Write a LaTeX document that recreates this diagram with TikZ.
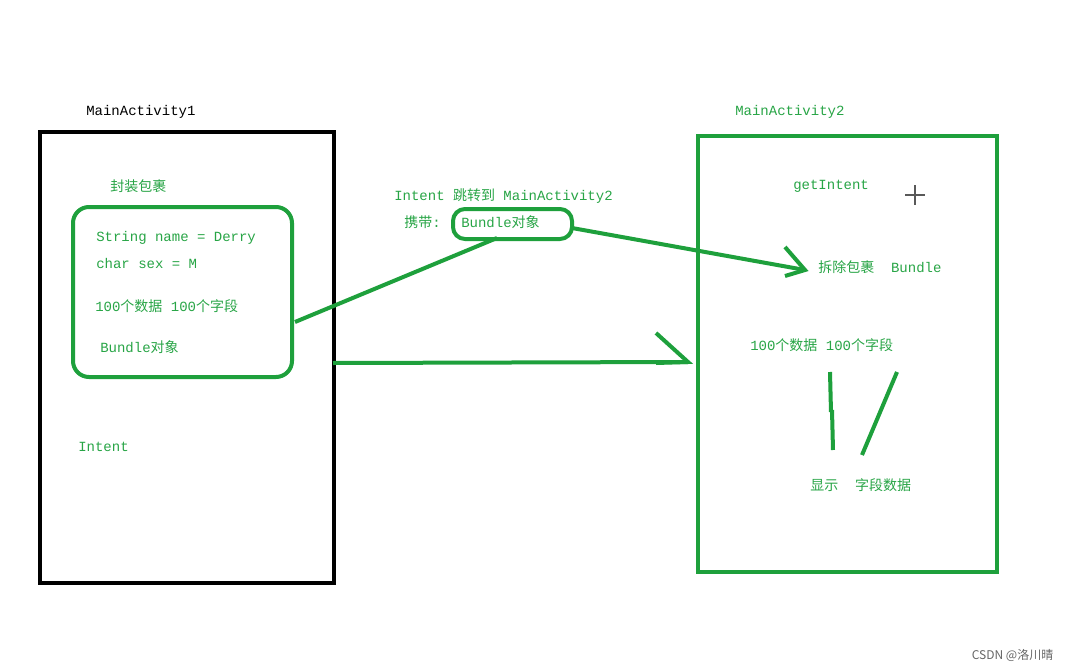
\documentclass[tikz,border=0pt]{standalone}
\usepackage{fontspec}
\setmainfont{Liberation Mono}
\newfontfamily\cjk{Noto Sans CJK SC}
\definecolor{gr}{RGB}{30,160,60}
\definecolor{gt}{RGB}{40,165,70}
\begin{document}
\begin{tikzpicture}[x=0.75pt,y=-0.75pt,
  lbl/.style={anchor=west,text=gt,font=\fontsize{10.5}{12}\selectfont,inner sep=0},
  gline/.style={draw=gr,line width=3pt},
  rbox/.style={draw=gr,line width=3pt,rounded corners=12pt}]
\useasboundingbox[fill=white] (0,0) rectangle (1072,671);
\draw[line width=3pt] (40,132) rectangle (334,583);
\node[lbl,text=black] (t1) at (86,112) {MainActivity1};
\draw[gline] (698,136) rectangle (997,572);
\node[lbl] (t2) at (735,112) {MainActivity2};
\draw[rbox] (73,207) rectangle (292,377);
\node[lbl] (a1) at (110,186) {\cjk 封装包裹};
\node[lbl] (a2) at (96,238) {String name = Derry};
\node[lbl] (a3) at (96,263) {char sex = M};
\node[lbl] (a4) at (95,306) {100{\cjk 个数据} 100{\cjk 个字段}};
\node[lbl] (a5) at (100,347) {Bundle{\cjk 对象}};
\node[lbl] (a6) at (78,447) {Intent};
\node[lbl] (b1) at (394,196) {Intent {\cjk 跳转到} MainActivity2};
\node[lbl] (b2) at (404,222) {{\cjk 携带}:};
\draw[rbox,rounded corners=9pt] (453,209) rectangle (572,239);
\node[lbl] (b3) at (461,222) {Bundle{\cjk 对象}};
\coordinate (p1) at (295,322); \coordinate (p2) at (497,238);
\draw[gline] (p1) -- (p2);
\coordinate (q1) at (572,228); \coordinate (q2) at (805,270);
\draw[gline] (q1) -- (q2);
\draw[gline] (785,247) -- (q2) -- (785,276);
\coordinate (r1) at (333,363); \coordinate (r2) at (688,362);
\draw[gline] (r1) -- (r2);
\draw[gline] (656,333) -- (r2) -- (656,363);
\node[lbl] (c1) at (793,186) {getIntent};
\draw[gray!70!black,line width=1pt] (905,195) -- (925,195) (915,185) -- (915,205);
\node[lbl] (c2) at (818,267) {{\cjk 拆除包裹} \ Bundle};
\node[lbl] (c3) at (750,345) {100{\cjk 个数据} 100{\cjk 个字段}};
\draw[gline] (830,372) -- (831,412);
\draw[gline] (832,410) -- (833,450);
\draw[gline] (897,372) -- (862,455);
\node[lbl] (c4) at (810,485) {{\cjk 显示} \ {\cjk 字段数据}};
\node[anchor=east,text=gray!80!black,font=\cjk\fontsize{9}{10}\selectfont] (w) at (1058,655) {CSDN @洛川晴};
\end{tikzpicture}
\end{document}
